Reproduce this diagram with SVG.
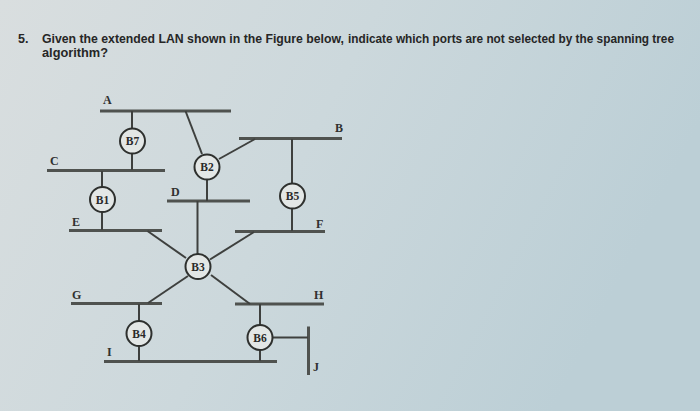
<svg xmlns="http://www.w3.org/2000/svg" width="700" height="411" viewBox="0 0 700 411">
<defs>
<linearGradient id="bg" x1="0" y1="0" x2="1" y2="0.3">
<stop offset="0" stop-color="#d9dedf"/>
<stop offset="0.5" stop-color="#ccd8dc"/>
<stop offset="1" stop-color="#bccfd6"/>
</linearGradient>
<style>
.lan{stroke:#4f524f;stroke-width:3;fill:none;stroke-linecap:butt}
.con{stroke:#3e403e;stroke-width:2;fill:none}
.br circle{fill:#e3e7e6;stroke:#2e302e;stroke-width:2}
.br text{font-family:"Liberation Serif",serif;font-weight:bold;font-size:11.5px;fill:#2a2a2a;text-anchor:middle}
.lbl{font-family:"Liberation Serif",serif;font-weight:bold;font-size:12px;fill:#2f302f}
.title{font-family:"Liberation Sans",sans-serif;font-weight:bold;font-size:12.5px;fill:#262626}
</style>
</defs>
<rect width="700" height="411" fill="url(#bg)"/>
<g id="title">
<text class="title" x="18" y="43">5.</text>
<text class="title" x="42" y="43" textLength="302" lengthAdjust="spacingAndGlyphs">Given the extended LAN shown in the Figure below,</text>
<text class="title" x="348" y="43" textLength="326" lengthAdjust="spacingAndGlyphs">indicate which ports are not selected by the spanning tree</text>
<text class="title" x="42" y="57" textLength="66" lengthAdjust="spacingAndGlyphs">algorithm?</text>
</g>
<g id="lans">
<g id="lanA"><line class="lan" x1="100" y1="111" x2="231" y2="111"/><text class="lbl" x="103" y="104">A</text></g>
<g id="lanB"><line class="lan" x1="239" y1="138.5" x2="342" y2="138.5"/><text class="lbl" x="335" y="132">B</text></g>
<g id="lanC"><line class="lan" x1="47" y1="170.5" x2="165" y2="170.5"/><text class="lbl" x="50" y="165">C</text></g>
<g id="lanD"><line class="lan" x1="167" y1="201" x2="250" y2="201"/><text class="lbl" x="171" y="196">D</text></g>
<g id="lanE"><line class="lan" x1="69" y1="230.5" x2="162" y2="230.5"/><text class="lbl" x="72" y="226">E</text></g>
<g id="lanF"><line class="lan" x1="235" y1="231.5" x2="325" y2="231.5"/><text class="lbl" x="316" y="228">F</text></g>
<g id="lanG"><line class="lan" x1="71" y1="303.5" x2="162" y2="303.5"/><text class="lbl" x="72" y="299">G</text></g>
<g id="lanH"><line class="lan" x1="235" y1="304" x2="324" y2="304"/><text class="lbl" x="314" y="299">H</text></g>
<g id="lanI"><line class="lan" x1="104" y1="361.5" x2="277" y2="361.5"/><text class="lbl" x="107" y="356">I</text></g>
<g id="lanJ"><line class="lan" x1="308.5" y1="326.5" x2="308.5" y2="375"/><text class="lbl" x="313" y="371">J</text></g>
</g>
<g id="connectors">
<line class="con" x1="132" y1="111" x2="132" y2="170"/>
<line class="con" x1="102" y1="171" x2="102" y2="230"/>
<line class="con" x1="185.5" y1="111" x2="202" y2="154"/>
<line class="con" x1="219" y1="159" x2="255" y2="139"/>
<line class="con" x1="207" y1="180" x2="207" y2="201"/>
<line class="con" x1="292" y1="139" x2="292" y2="231"/>
<line class="con" x1="197.5" y1="201" x2="197.5" y2="254"/>
<line class="con" x1="147.5" y1="231" x2="186" y2="258"/>
<line class="con" x1="210" y1="259.5" x2="254" y2="232"/>
<line class="con" x1="188" y1="276" x2="148" y2="303"/>
<line class="con" x1="211" y1="275" x2="250" y2="304"/>
<line class="con" x1="139" y1="304" x2="139" y2="361"/>
<line class="con" x1="260" y1="304" x2="260" y2="361"/>
<line class="con" x1="260" y1="337.5" x2="308" y2="337.5"/>
</g>
<g id="B7" class="br"><circle cx="132.5" cy="141" r="12.5"/><text x="132.5" y="145">B7</text></g>
<g id="B1" class="br"><circle cx="102.5" cy="199.5" r="12.5"/><text x="102.5" y="203.5">B1</text></g>
<g id="B2" class="br"><circle cx="207" cy="167" r="12.5"/><text x="207" y="171">B2</text></g>
<g id="B5" class="br"><circle cx="292.5" cy="196" r="12.5"/><text x="292.5" y="200">B5</text></g>
<g id="B3" class="br"><circle cx="198" cy="266.5" r="12.5"/><text x="198" y="270.5">B3</text></g>
<g id="B4" class="br"><circle cx="139" cy="333.5" r="12.5"/><text x="139" y="337.5">B4</text></g>
<g id="B6" class="br"><circle cx="260" cy="337.5" r="12.5"/><text x="260" y="341.5">B6</text></g>
</svg>
